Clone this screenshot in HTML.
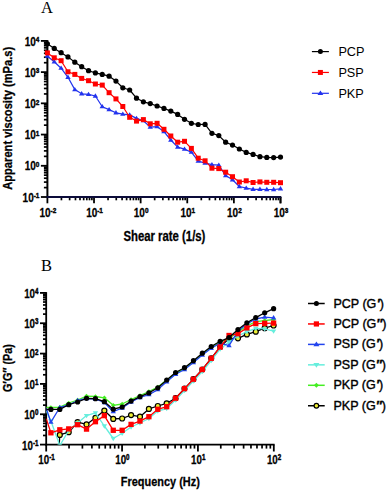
<!DOCTYPE html><html><head><meta charset="utf-8"><style>html,body{margin:0;padding:0;background:#fff;width:387px;height:490px;overflow:hidden}svg{display:block}</style></head><body>
<svg width="387" height="490" viewBox="0 0 387 490">
<rect width="387" height="490" fill="#fff"/>
<text x="41.0" y="12.7" font-family="Liberation Serif, serif" font-size="16.5">A</text>
<text x="41.1" y="271.0" font-family="Liberation Serif, serif" font-size="16.5">B</text>
<line x1="40.9" y1="197.00" x2="47.40" y2="197.00" stroke="#000" stroke-width="1.8"/>
<line x1="43.9" y1="187.60" x2="47.40" y2="187.60" stroke="#000" stroke-width="1.7"/>
<line x1="43.9" y1="182.10" x2="47.40" y2="182.10" stroke="#000" stroke-width="1.7"/>
<line x1="43.9" y1="178.20" x2="47.40" y2="178.20" stroke="#000" stroke-width="1.7"/>
<line x1="43.9" y1="175.18" x2="47.40" y2="175.18" stroke="#000" stroke-width="1.7"/>
<line x1="43.9" y1="172.71" x2="47.40" y2="172.71" stroke="#000" stroke-width="1.7"/>
<line x1="43.9" y1="170.62" x2="47.40" y2="170.62" stroke="#000" stroke-width="1.7"/>
<line x1="43.9" y1="168.81" x2="47.40" y2="168.81" stroke="#000" stroke-width="1.7"/>
<line x1="43.9" y1="167.21" x2="47.40" y2="167.21" stroke="#000" stroke-width="1.7"/>
<line x1="40.9" y1="165.78" x2="47.40" y2="165.78" stroke="#000" stroke-width="1.8"/>
<line x1="43.9" y1="156.38" x2="47.40" y2="156.38" stroke="#000" stroke-width="1.7"/>
<line x1="43.9" y1="150.88" x2="47.40" y2="150.88" stroke="#000" stroke-width="1.7"/>
<line x1="43.9" y1="146.98" x2="47.40" y2="146.98" stroke="#000" stroke-width="1.7"/>
<line x1="43.9" y1="143.96" x2="47.40" y2="143.96" stroke="#000" stroke-width="1.7"/>
<line x1="43.9" y1="141.49" x2="47.40" y2="141.49" stroke="#000" stroke-width="1.7"/>
<line x1="43.9" y1="139.40" x2="47.40" y2="139.40" stroke="#000" stroke-width="1.7"/>
<line x1="43.9" y1="137.59" x2="47.40" y2="137.59" stroke="#000" stroke-width="1.7"/>
<line x1="43.9" y1="135.99" x2="47.40" y2="135.99" stroke="#000" stroke-width="1.7"/>
<line x1="40.9" y1="134.56" x2="47.40" y2="134.56" stroke="#000" stroke-width="1.8"/>
<line x1="43.9" y1="125.16" x2="47.40" y2="125.16" stroke="#000" stroke-width="1.7"/>
<line x1="43.9" y1="119.66" x2="47.40" y2="119.66" stroke="#000" stroke-width="1.7"/>
<line x1="43.9" y1="115.76" x2="47.40" y2="115.76" stroke="#000" stroke-width="1.7"/>
<line x1="43.9" y1="112.74" x2="47.40" y2="112.74" stroke="#000" stroke-width="1.7"/>
<line x1="43.9" y1="110.27" x2="47.40" y2="110.27" stroke="#000" stroke-width="1.7"/>
<line x1="43.9" y1="108.18" x2="47.40" y2="108.18" stroke="#000" stroke-width="1.7"/>
<line x1="43.9" y1="106.37" x2="47.40" y2="106.37" stroke="#000" stroke-width="1.7"/>
<line x1="43.9" y1="104.77" x2="47.40" y2="104.77" stroke="#000" stroke-width="1.7"/>
<line x1="40.9" y1="103.34" x2="47.40" y2="103.34" stroke="#000" stroke-width="1.8"/>
<line x1="43.9" y1="93.94" x2="47.40" y2="93.94" stroke="#000" stroke-width="1.7"/>
<line x1="43.9" y1="88.44" x2="47.40" y2="88.44" stroke="#000" stroke-width="1.7"/>
<line x1="43.9" y1="84.54" x2="47.40" y2="84.54" stroke="#000" stroke-width="1.7"/>
<line x1="43.9" y1="81.52" x2="47.40" y2="81.52" stroke="#000" stroke-width="1.7"/>
<line x1="43.9" y1="79.05" x2="47.40" y2="79.05" stroke="#000" stroke-width="1.7"/>
<line x1="43.9" y1="76.96" x2="47.40" y2="76.96" stroke="#000" stroke-width="1.7"/>
<line x1="43.9" y1="75.15" x2="47.40" y2="75.15" stroke="#000" stroke-width="1.7"/>
<line x1="43.9" y1="73.55" x2="47.40" y2="73.55" stroke="#000" stroke-width="1.7"/>
<line x1="40.9" y1="72.12" x2="47.40" y2="72.12" stroke="#000" stroke-width="1.8"/>
<line x1="43.9" y1="62.72" x2="47.40" y2="62.72" stroke="#000" stroke-width="1.7"/>
<line x1="43.9" y1="57.22" x2="47.40" y2="57.22" stroke="#000" stroke-width="1.7"/>
<line x1="43.9" y1="53.32" x2="47.40" y2="53.32" stroke="#000" stroke-width="1.7"/>
<line x1="43.9" y1="50.30" x2="47.40" y2="50.30" stroke="#000" stroke-width="1.7"/>
<line x1="43.9" y1="47.83" x2="47.40" y2="47.83" stroke="#000" stroke-width="1.7"/>
<line x1="43.9" y1="45.74" x2="47.40" y2="45.74" stroke="#000" stroke-width="1.7"/>
<line x1="43.9" y1="43.93" x2="47.40" y2="43.93" stroke="#000" stroke-width="1.7"/>
<line x1="43.9" y1="42.33" x2="47.40" y2="42.33" stroke="#000" stroke-width="1.7"/>
<line x1="40.9" y1="40.90" x2="47.40" y2="40.90" stroke="#000" stroke-width="1.8"/>
<line x1="47.40" y1="197.00" x2="47.40" y2="203.3" stroke="#000" stroke-width="1.8"/>
<line x1="61.43" y1="197.00" x2="61.43" y2="200.3" stroke="#000" stroke-width="1.7"/>
<line x1="69.64" y1="197.00" x2="69.64" y2="200.3" stroke="#000" stroke-width="1.7"/>
<line x1="75.47" y1="197.00" x2="75.47" y2="200.3" stroke="#000" stroke-width="1.7"/>
<line x1="79.99" y1="197.00" x2="79.99" y2="200.3" stroke="#000" stroke-width="1.7"/>
<line x1="83.68" y1="197.00" x2="83.68" y2="200.3" stroke="#000" stroke-width="1.7"/>
<line x1="86.80" y1="197.00" x2="86.80" y2="200.3" stroke="#000" stroke-width="1.7"/>
<line x1="89.50" y1="197.00" x2="89.50" y2="200.3" stroke="#000" stroke-width="1.7"/>
<line x1="91.89" y1="197.00" x2="91.89" y2="200.3" stroke="#000" stroke-width="1.7"/>
<line x1="94.02" y1="197.00" x2="94.02" y2="203.3" stroke="#000" stroke-width="1.8"/>
<line x1="108.05" y1="197.00" x2="108.05" y2="200.3" stroke="#000" stroke-width="1.7"/>
<line x1="116.26" y1="197.00" x2="116.26" y2="200.3" stroke="#000" stroke-width="1.7"/>
<line x1="122.09" y1="197.00" x2="122.09" y2="200.3" stroke="#000" stroke-width="1.7"/>
<line x1="126.61" y1="197.00" x2="126.61" y2="200.3" stroke="#000" stroke-width="1.7"/>
<line x1="130.30" y1="197.00" x2="130.30" y2="200.3" stroke="#000" stroke-width="1.7"/>
<line x1="133.42" y1="197.00" x2="133.42" y2="200.3" stroke="#000" stroke-width="1.7"/>
<line x1="136.12" y1="197.00" x2="136.12" y2="200.3" stroke="#000" stroke-width="1.7"/>
<line x1="138.51" y1="197.00" x2="138.51" y2="200.3" stroke="#000" stroke-width="1.7"/>
<line x1="140.64" y1="197.00" x2="140.64" y2="203.3" stroke="#000" stroke-width="1.8"/>
<line x1="154.67" y1="197.00" x2="154.67" y2="200.3" stroke="#000" stroke-width="1.7"/>
<line x1="162.88" y1="197.00" x2="162.88" y2="200.3" stroke="#000" stroke-width="1.7"/>
<line x1="168.71" y1="197.00" x2="168.71" y2="200.3" stroke="#000" stroke-width="1.7"/>
<line x1="173.23" y1="197.00" x2="173.23" y2="200.3" stroke="#000" stroke-width="1.7"/>
<line x1="176.92" y1="197.00" x2="176.92" y2="200.3" stroke="#000" stroke-width="1.7"/>
<line x1="180.04" y1="197.00" x2="180.04" y2="200.3" stroke="#000" stroke-width="1.7"/>
<line x1="182.74" y1="197.00" x2="182.74" y2="200.3" stroke="#000" stroke-width="1.7"/>
<line x1="185.13" y1="197.00" x2="185.13" y2="200.3" stroke="#000" stroke-width="1.7"/>
<line x1="187.26" y1="197.00" x2="187.26" y2="203.3" stroke="#000" stroke-width="1.8"/>
<line x1="201.29" y1="197.00" x2="201.29" y2="200.3" stroke="#000" stroke-width="1.7"/>
<line x1="209.50" y1="197.00" x2="209.50" y2="200.3" stroke="#000" stroke-width="1.7"/>
<line x1="215.33" y1="197.00" x2="215.33" y2="200.3" stroke="#000" stroke-width="1.7"/>
<line x1="219.85" y1="197.00" x2="219.85" y2="200.3" stroke="#000" stroke-width="1.7"/>
<line x1="223.54" y1="197.00" x2="223.54" y2="200.3" stroke="#000" stroke-width="1.7"/>
<line x1="226.66" y1="197.00" x2="226.66" y2="200.3" stroke="#000" stroke-width="1.7"/>
<line x1="229.36" y1="197.00" x2="229.36" y2="200.3" stroke="#000" stroke-width="1.7"/>
<line x1="231.75" y1="197.00" x2="231.75" y2="200.3" stroke="#000" stroke-width="1.7"/>
<line x1="233.88" y1="197.00" x2="233.88" y2="203.3" stroke="#000" stroke-width="1.8"/>
<line x1="247.91" y1="197.00" x2="247.91" y2="200.3" stroke="#000" stroke-width="1.7"/>
<line x1="256.12" y1="197.00" x2="256.12" y2="200.3" stroke="#000" stroke-width="1.7"/>
<line x1="261.95" y1="197.00" x2="261.95" y2="200.3" stroke="#000" stroke-width="1.7"/>
<line x1="266.47" y1="197.00" x2="266.47" y2="200.3" stroke="#000" stroke-width="1.7"/>
<line x1="270.16" y1="197.00" x2="270.16" y2="200.3" stroke="#000" stroke-width="1.7"/>
<line x1="273.28" y1="197.00" x2="273.28" y2="200.3" stroke="#000" stroke-width="1.7"/>
<line x1="275.98" y1="197.00" x2="275.98" y2="200.3" stroke="#000" stroke-width="1.7"/>
<line x1="278.37" y1="197.00" x2="278.37" y2="200.3" stroke="#000" stroke-width="1.7"/>
<line x1="280.50" y1="197.00" x2="280.50" y2="203.3" stroke="#000" stroke-width="1.8"/>
<line x1="280.50" y1="197.00" x2="280.50" y2="203.3" stroke="#000" stroke-width="1.8"/>
<line x1="47.40" y1="40.10" x2="47.40" y2="198.00" stroke="#000" stroke-width="2"/>
<line x1="46.40" y1="197.00" x2="281.30" y2="197.00" stroke="#0c0c3a" stroke-width="2"/>
<text transform="translate(39.40,201.60) scale(0.8,1)" text-anchor="end" font-size="12.5" font-weight="bold" stroke="#000" stroke-width="0.25" font-family="Liberation Sans, sans-serif">10<tspan font-size="8" dy="-3.4" stroke-width="0.45">‐1</tspan></text>
<text transform="translate(39.40,170.38) scale(0.8,1)" text-anchor="end" font-size="12.5" font-weight="bold" stroke="#000" stroke-width="0.25" font-family="Liberation Sans, sans-serif">10<tspan font-size="8" dy="-3.4" stroke-width="0.45">0</tspan></text>
<text transform="translate(39.40,139.16) scale(0.8,1)" text-anchor="end" font-size="12.5" font-weight="bold" stroke="#000" stroke-width="0.25" font-family="Liberation Sans, sans-serif">10<tspan font-size="8" dy="-3.4" stroke-width="0.45">1</tspan></text>
<text transform="translate(39.40,107.94) scale(0.8,1)" text-anchor="end" font-size="12.5" font-weight="bold" stroke="#000" stroke-width="0.25" font-family="Liberation Sans, sans-serif">10<tspan font-size="8" dy="-3.4" stroke-width="0.45">2</tspan></text>
<text transform="translate(39.40,76.72) scale(0.8,1)" text-anchor="end" font-size="12.5" font-weight="bold" stroke="#000" stroke-width="0.25" font-family="Liberation Sans, sans-serif">10<tspan font-size="8" dy="-3.4" stroke-width="0.45">3</tspan></text>
<text transform="translate(39.40,45.50) scale(0.8,1)" text-anchor="end" font-size="12.5" font-weight="bold" stroke="#000" stroke-width="0.25" font-family="Liberation Sans, sans-serif">10<tspan font-size="8" dy="-3.4" stroke-width="0.45">4</tspan></text>
<text transform="translate(47.90,216.80) scale(0.8,1)" text-anchor="middle" font-size="12.5" font-weight="bold" stroke="#000" stroke-width="0.25" font-family="Liberation Sans, sans-serif">10<tspan font-size="8" dy="-3.4" stroke-width="0.45">‐2</tspan></text>
<text transform="translate(94.52,216.80) scale(0.8,1)" text-anchor="middle" font-size="12.5" font-weight="bold" stroke="#000" stroke-width="0.25" font-family="Liberation Sans, sans-serif">10<tspan font-size="8" dy="-3.4" stroke-width="0.45">‐1</tspan></text>
<text transform="translate(141.14,216.80) scale(0.8,1)" text-anchor="middle" font-size="12.5" font-weight="bold" stroke="#000" stroke-width="0.25" font-family="Liberation Sans, sans-serif">10<tspan font-size="8" dy="-3.4" stroke-width="0.45">0</tspan></text>
<text transform="translate(187.76,216.80) scale(0.8,1)" text-anchor="middle" font-size="12.5" font-weight="bold" stroke="#000" stroke-width="0.25" font-family="Liberation Sans, sans-serif">10<tspan font-size="8" dy="-3.4" stroke-width="0.45">1</tspan></text>
<text transform="translate(234.38,216.80) scale(0.8,1)" text-anchor="middle" font-size="12.5" font-weight="bold" stroke="#000" stroke-width="0.25" font-family="Liberation Sans, sans-serif">10<tspan font-size="8" dy="-3.4" stroke-width="0.45">2</tspan></text>
<text transform="translate(281.00,216.80) scale(0.8,1)" text-anchor="middle" font-size="12.5" font-weight="bold" stroke="#000" stroke-width="0.25" font-family="Liberation Sans, sans-serif">10<tspan font-size="8" dy="-3.4" stroke-width="0.45">3</tspan></text>
<text transform="translate(12.0,118.3) rotate(-90)" text-anchor="middle" font-size="13.4" font-weight="bold" stroke="#000" stroke-width="0.3" font-family="Liberation Sans, sans-serif" textLength="143" lengthAdjust="spacingAndGlyphs">Apparent viscosity (mPa.s)</text>
<text x="164.4" y="241.2" text-anchor="middle" font-size="14" font-weight="bold" stroke="#000" stroke-width="0.3" font-family="Liberation Sans, sans-serif" textLength="82" lengthAdjust="spacingAndGlyphs">Shear rate (1/s)</text>
<polyline points="47.40,56.20 54.26,61.80 61.11,68.20 67.97,77.30 74.82,89.60 81.68,93.80 88.54,94.40 95.39,96.00 102.25,106.70 109.10,109.60 115.96,112.80 122.81,114.20 129.67,114.90 136.53,118.40 143.38,120.70 150.24,127.10 157.09,126.70 163.95,131.60 170.81,140.00 177.66,147.20 184.52,149.10 191.37,152.20 198.23,161.10 205.09,163.10 211.94,164.60 218.80,165.10 225.65,175.60 232.51,179.80 239.36,186.50 246.22,188.20 253.08,189.30 259.93,189.30 266.79,189.50 273.64,189.50 280.50,188.80" fill="none" stroke="#2233ee" stroke-width="1.2" stroke-linejoin="round"/>
<polygon points="47.40,53.52 44.70,57.84 50.10,57.84" fill="#2233ee"/>
<polygon points="54.26,59.12 51.56,63.44 56.96,63.44" fill="#2233ee"/>
<polygon points="61.11,65.52 58.41,69.84 63.81,69.84" fill="#2233ee"/>
<polygon points="67.97,74.62 65.27,78.94 70.67,78.94" fill="#2233ee"/>
<polygon points="74.82,86.92 72.12,91.24 77.52,91.24" fill="#2233ee"/>
<polygon points="81.68,91.12 78.98,95.44 84.38,95.44" fill="#2233ee"/>
<polygon points="88.54,91.72 85.84,96.04 91.24,96.04" fill="#2233ee"/>
<polygon points="95.39,93.32 92.69,97.64 98.09,97.64" fill="#2233ee"/>
<polygon points="102.25,104.02 99.55,108.34 104.95,108.34" fill="#2233ee"/>
<polygon points="109.10,106.92 106.40,111.24 111.80,111.24" fill="#2233ee"/>
<polygon points="115.96,110.12 113.26,114.44 118.66,114.44" fill="#2233ee"/>
<polygon points="122.81,111.52 120.11,115.84 125.51,115.84" fill="#2233ee"/>
<polygon points="129.67,112.22 126.97,116.54 132.37,116.54" fill="#2233ee"/>
<polygon points="136.53,115.72 133.83,120.04 139.23,120.04" fill="#2233ee"/>
<polygon points="143.38,118.02 140.68,122.34 146.08,122.34" fill="#2233ee"/>
<polygon points="150.24,124.42 147.54,128.74 152.94,128.74" fill="#2233ee"/>
<polygon points="157.09,124.02 154.39,128.34 159.79,128.34" fill="#2233ee"/>
<polygon points="163.95,128.92 161.25,133.24 166.65,133.24" fill="#2233ee"/>
<polygon points="170.81,137.32 168.11,141.64 173.51,141.64" fill="#2233ee"/>
<polygon points="177.66,144.52 174.96,148.84 180.36,148.84" fill="#2233ee"/>
<polygon points="184.52,146.42 181.82,150.74 187.22,150.74" fill="#2233ee"/>
<polygon points="191.37,149.52 188.67,153.84 194.07,153.84" fill="#2233ee"/>
<polygon points="198.23,158.42 195.53,162.74 200.93,162.74" fill="#2233ee"/>
<polygon points="205.09,160.42 202.39,164.74 207.79,164.74" fill="#2233ee"/>
<polygon points="211.94,161.92 209.24,166.24 214.64,166.24" fill="#2233ee"/>
<polygon points="218.80,162.42 216.10,166.74 221.50,166.74" fill="#2233ee"/>
<polygon points="225.65,172.92 222.95,177.24 228.35,177.24" fill="#2233ee"/>
<polygon points="232.51,177.12 229.81,181.44 235.21,181.44" fill="#2233ee"/>
<polygon points="239.36,183.82 236.66,188.14 242.06,188.14" fill="#2233ee"/>
<polygon points="246.22,185.52 243.52,189.84 248.92,189.84" fill="#2233ee"/>
<polygon points="253.08,186.62 250.38,190.94 255.78,190.94" fill="#2233ee"/>
<polygon points="259.93,186.62 257.23,190.94 262.63,190.94" fill="#2233ee"/>
<polygon points="266.79,186.82 264.09,191.14 269.49,191.14" fill="#2233ee"/>
<polygon points="273.64,186.82 270.94,191.14 276.34,191.14" fill="#2233ee"/>
<polygon points="280.50,186.12 277.80,190.44 283.20,190.44" fill="#2233ee"/>
<polyline points="47.40,52.90 54.26,57.80 61.11,60.70 67.97,71.80 74.82,74.40 81.68,78.40 88.54,80.70 95.39,84.00 102.25,85.10 109.10,92.70 115.96,98.90 122.81,106.50 129.67,117.30 136.53,121.10 143.38,119.60 150.24,123.80 157.09,123.30 163.95,129.30 170.81,136.00 177.66,142.20 184.52,141.30 191.37,148.40 198.23,158.20 205.09,160.80 211.94,168.20 218.80,168.60 225.65,172.20 232.51,176.70 239.36,182.00 246.22,180.80 253.08,182.50 259.93,181.90 266.79,182.30 273.64,182.30 280.50,182.70" fill="none" stroke="#ff0000" stroke-width="1.2" stroke-linejoin="round"/>
<rect x="44.90" y="50.40" width="5" height="5" fill="#ff0000"/>
<rect x="51.76" y="55.30" width="5" height="5" fill="#ff0000"/>
<rect x="58.61" y="58.20" width="5" height="5" fill="#ff0000"/>
<rect x="65.47" y="69.30" width="5" height="5" fill="#ff0000"/>
<rect x="72.32" y="71.90" width="5" height="5" fill="#ff0000"/>
<rect x="79.18" y="75.90" width="5" height="5" fill="#ff0000"/>
<rect x="86.04" y="78.20" width="5" height="5" fill="#ff0000"/>
<rect x="92.89" y="81.50" width="5" height="5" fill="#ff0000"/>
<rect x="99.75" y="82.60" width="5" height="5" fill="#ff0000"/>
<rect x="106.60" y="90.20" width="5" height="5" fill="#ff0000"/>
<rect x="113.46" y="96.40" width="5" height="5" fill="#ff0000"/>
<rect x="120.31" y="104.00" width="5" height="5" fill="#ff0000"/>
<rect x="127.17" y="114.80" width="5" height="5" fill="#ff0000"/>
<rect x="134.03" y="118.60" width="5" height="5" fill="#ff0000"/>
<rect x="140.88" y="117.10" width="5" height="5" fill="#ff0000"/>
<rect x="147.74" y="121.30" width="5" height="5" fill="#ff0000"/>
<rect x="154.59" y="120.80" width="5" height="5" fill="#ff0000"/>
<rect x="161.45" y="126.80" width="5" height="5" fill="#ff0000"/>
<rect x="168.31" y="133.50" width="5" height="5" fill="#ff0000"/>
<rect x="175.16" y="139.70" width="5" height="5" fill="#ff0000"/>
<rect x="182.02" y="138.80" width="5" height="5" fill="#ff0000"/>
<rect x="188.87" y="145.90" width="5" height="5" fill="#ff0000"/>
<rect x="195.73" y="155.70" width="5" height="5" fill="#ff0000"/>
<rect x="202.59" y="158.30" width="5" height="5" fill="#ff0000"/>
<rect x="209.44" y="165.70" width="5" height="5" fill="#ff0000"/>
<rect x="216.30" y="166.10" width="5" height="5" fill="#ff0000"/>
<rect x="223.15" y="169.70" width="5" height="5" fill="#ff0000"/>
<rect x="230.01" y="174.20" width="5" height="5" fill="#ff0000"/>
<rect x="236.86" y="179.50" width="5" height="5" fill="#ff0000"/>
<rect x="243.72" y="178.30" width="5" height="5" fill="#ff0000"/>
<rect x="250.58" y="180.00" width="5" height="5" fill="#ff0000"/>
<rect x="257.43" y="179.40" width="5" height="5" fill="#ff0000"/>
<rect x="264.29" y="179.80" width="5" height="5" fill="#ff0000"/>
<rect x="271.14" y="179.80" width="5" height="5" fill="#ff0000"/>
<rect x="278.00" y="180.20" width="5" height="5" fill="#ff0000"/>
<polyline points="47.40,43.80 54.26,48.40 61.11,52.70 67.97,56.90 74.82,62.20 81.68,66.70 88.54,70.70 95.39,72.90 102.25,74.40 109.10,76.20 115.96,81.10 122.81,87.80 129.67,90.00 136.53,98.20 143.38,101.80 150.24,103.60 157.09,106.00 163.95,108.40 170.81,111.10 177.66,114.40 184.52,119.30 191.37,123.30 198.23,124.50 205.09,124.40 211.94,133.30 218.80,135.60 225.65,142.20 232.51,145.10 239.36,149.00 246.22,152.40 253.08,154.40 259.93,156.70 266.79,157.40 273.64,157.60 280.50,157.10" fill="none" stroke="#000" stroke-width="1.2" stroke-linejoin="round"/>
<circle cx="47.40" cy="43.80" r="2.6" fill="#000"/>
<circle cx="54.26" cy="48.40" r="2.6" fill="#000"/>
<circle cx="61.11" cy="52.70" r="2.6" fill="#000"/>
<circle cx="67.97" cy="56.90" r="2.6" fill="#000"/>
<circle cx="74.82" cy="62.20" r="2.6" fill="#000"/>
<circle cx="81.68" cy="66.70" r="2.6" fill="#000"/>
<circle cx="88.54" cy="70.70" r="2.6" fill="#000"/>
<circle cx="95.39" cy="72.90" r="2.6" fill="#000"/>
<circle cx="102.25" cy="74.40" r="2.6" fill="#000"/>
<circle cx="109.10" cy="76.20" r="2.6" fill="#000"/>
<circle cx="115.96" cy="81.10" r="2.6" fill="#000"/>
<circle cx="122.81" cy="87.80" r="2.6" fill="#000"/>
<circle cx="129.67" cy="90.00" r="2.6" fill="#000"/>
<circle cx="136.53" cy="98.20" r="2.6" fill="#000"/>
<circle cx="143.38" cy="101.80" r="2.6" fill="#000"/>
<circle cx="150.24" cy="103.60" r="2.6" fill="#000"/>
<circle cx="157.09" cy="106.00" r="2.6" fill="#000"/>
<circle cx="163.95" cy="108.40" r="2.6" fill="#000"/>
<circle cx="170.81" cy="111.10" r="2.6" fill="#000"/>
<circle cx="177.66" cy="114.40" r="2.6" fill="#000"/>
<circle cx="184.52" cy="119.30" r="2.6" fill="#000"/>
<circle cx="191.37" cy="123.30" r="2.6" fill="#000"/>
<circle cx="198.23" cy="124.50" r="2.6" fill="#000"/>
<circle cx="205.09" cy="124.40" r="2.6" fill="#000"/>
<circle cx="211.94" cy="133.30" r="2.6" fill="#000"/>
<circle cx="218.80" cy="135.60" r="2.6" fill="#000"/>
<circle cx="225.65" cy="142.20" r="2.6" fill="#000"/>
<circle cx="232.51" cy="145.10" r="2.6" fill="#000"/>
<circle cx="239.36" cy="149.00" r="2.6" fill="#000"/>
<circle cx="246.22" cy="152.40" r="2.6" fill="#000"/>
<circle cx="253.08" cy="154.40" r="2.6" fill="#000"/>
<circle cx="259.93" cy="156.70" r="2.6" fill="#000"/>
<circle cx="266.79" cy="157.40" r="2.6" fill="#000"/>
<circle cx="273.64" cy="157.60" r="2.6" fill="#000"/>
<circle cx="280.50" cy="157.10" r="2.6" fill="#000"/>
<line x1="311.9" y1="51.60" x2="328.9" y2="51.60" stroke="#000" stroke-width="1.2"/>
<circle cx="320.40" cy="51.60" r="2.5" fill="#000"/>
<text x="338.4" y="56.00" font-size="12.7" font-family="Liberation Sans, sans-serif">PCP</text>
<line x1="311.9" y1="72.45" x2="328.9" y2="72.45" stroke="#ff0000" stroke-width="1.2"/>
<rect x="317.90" y="69.95" width="5" height="5" fill="#ff0000"/>
<text x="338.4" y="76.85" font-size="12.7" font-family="Liberation Sans, sans-serif">PSP</text>
<line x1="311.9" y1="93.30" x2="328.9" y2="93.30" stroke="#2233ee" stroke-width="1.2"/>
<polygon points="320.40,90.42 317.50,95.06 323.30,95.06" fill="#2233ee"/>
<text x="338.4" y="97.70" font-size="12.7" font-family="Liberation Sans, sans-serif">PKP</text>
<line x1="40.0" y1="444.60" x2="46.20" y2="444.60" stroke="#000" stroke-width="1.8"/>
<line x1="43.0" y1="435.47" x2="46.20" y2="435.47" stroke="#000" stroke-width="1.7"/>
<line x1="43.0" y1="430.12" x2="46.20" y2="430.12" stroke="#000" stroke-width="1.7"/>
<line x1="43.0" y1="426.33" x2="46.20" y2="426.33" stroke="#000" stroke-width="1.7"/>
<line x1="43.0" y1="423.39" x2="46.20" y2="423.39" stroke="#000" stroke-width="1.7"/>
<line x1="43.0" y1="420.99" x2="46.20" y2="420.99" stroke="#000" stroke-width="1.7"/>
<line x1="43.0" y1="418.96" x2="46.20" y2="418.96" stroke="#000" stroke-width="1.7"/>
<line x1="43.0" y1="417.20" x2="46.20" y2="417.20" stroke="#000" stroke-width="1.7"/>
<line x1="43.0" y1="415.65" x2="46.20" y2="415.65" stroke="#000" stroke-width="1.7"/>
<line x1="40.0" y1="414.26" x2="46.20" y2="414.26" stroke="#000" stroke-width="1.8"/>
<line x1="43.0" y1="405.13" x2="46.20" y2="405.13" stroke="#000" stroke-width="1.7"/>
<line x1="43.0" y1="399.78" x2="46.20" y2="399.78" stroke="#000" stroke-width="1.7"/>
<line x1="43.0" y1="395.99" x2="46.20" y2="395.99" stroke="#000" stroke-width="1.7"/>
<line x1="43.0" y1="393.05" x2="46.20" y2="393.05" stroke="#000" stroke-width="1.7"/>
<line x1="43.0" y1="390.65" x2="46.20" y2="390.65" stroke="#000" stroke-width="1.7"/>
<line x1="43.0" y1="388.62" x2="46.20" y2="388.62" stroke="#000" stroke-width="1.7"/>
<line x1="43.0" y1="386.86" x2="46.20" y2="386.86" stroke="#000" stroke-width="1.7"/>
<line x1="43.0" y1="385.31" x2="46.20" y2="385.31" stroke="#000" stroke-width="1.7"/>
<line x1="40.0" y1="383.92" x2="46.20" y2="383.92" stroke="#000" stroke-width="1.8"/>
<line x1="43.0" y1="374.79" x2="46.20" y2="374.79" stroke="#000" stroke-width="1.7"/>
<line x1="43.0" y1="369.44" x2="46.20" y2="369.44" stroke="#000" stroke-width="1.7"/>
<line x1="43.0" y1="365.65" x2="46.20" y2="365.65" stroke="#000" stroke-width="1.7"/>
<line x1="43.0" y1="362.71" x2="46.20" y2="362.71" stroke="#000" stroke-width="1.7"/>
<line x1="43.0" y1="360.31" x2="46.20" y2="360.31" stroke="#000" stroke-width="1.7"/>
<line x1="43.0" y1="358.28" x2="46.20" y2="358.28" stroke="#000" stroke-width="1.7"/>
<line x1="43.0" y1="356.52" x2="46.20" y2="356.52" stroke="#000" stroke-width="1.7"/>
<line x1="43.0" y1="354.97" x2="46.20" y2="354.97" stroke="#000" stroke-width="1.7"/>
<line x1="40.0" y1="353.58" x2="46.20" y2="353.58" stroke="#000" stroke-width="1.8"/>
<line x1="43.0" y1="344.45" x2="46.20" y2="344.45" stroke="#000" stroke-width="1.7"/>
<line x1="43.0" y1="339.10" x2="46.20" y2="339.10" stroke="#000" stroke-width="1.7"/>
<line x1="43.0" y1="335.31" x2="46.20" y2="335.31" stroke="#000" stroke-width="1.7"/>
<line x1="43.0" y1="332.37" x2="46.20" y2="332.37" stroke="#000" stroke-width="1.7"/>
<line x1="43.0" y1="329.97" x2="46.20" y2="329.97" stroke="#000" stroke-width="1.7"/>
<line x1="43.0" y1="327.94" x2="46.20" y2="327.94" stroke="#000" stroke-width="1.7"/>
<line x1="43.0" y1="326.18" x2="46.20" y2="326.18" stroke="#000" stroke-width="1.7"/>
<line x1="43.0" y1="324.63" x2="46.20" y2="324.63" stroke="#000" stroke-width="1.7"/>
<line x1="40.0" y1="323.24" x2="46.20" y2="323.24" stroke="#000" stroke-width="1.8"/>
<line x1="43.0" y1="314.11" x2="46.20" y2="314.11" stroke="#000" stroke-width="1.7"/>
<line x1="43.0" y1="308.76" x2="46.20" y2="308.76" stroke="#000" stroke-width="1.7"/>
<line x1="43.0" y1="304.97" x2="46.20" y2="304.97" stroke="#000" stroke-width="1.7"/>
<line x1="43.0" y1="302.03" x2="46.20" y2="302.03" stroke="#000" stroke-width="1.7"/>
<line x1="43.0" y1="299.63" x2="46.20" y2="299.63" stroke="#000" stroke-width="1.7"/>
<line x1="43.0" y1="297.60" x2="46.20" y2="297.60" stroke="#000" stroke-width="1.7"/>
<line x1="43.0" y1="295.84" x2="46.20" y2="295.84" stroke="#000" stroke-width="1.7"/>
<line x1="43.0" y1="294.29" x2="46.20" y2="294.29" stroke="#000" stroke-width="1.7"/>
<line x1="40.0" y1="292.90" x2="46.20" y2="292.90" stroke="#000" stroke-width="1.8"/>
<line x1="46.20" y1="444.60" x2="46.20" y2="451.5" stroke="#000" stroke-width="1.8"/>
<line x1="69.04" y1="444.60" x2="69.04" y2="448.6" stroke="#000" stroke-width="1.7"/>
<line x1="82.40" y1="444.60" x2="82.40" y2="448.6" stroke="#000" stroke-width="1.7"/>
<line x1="91.88" y1="444.60" x2="91.88" y2="448.6" stroke="#000" stroke-width="1.7"/>
<line x1="99.23" y1="444.60" x2="99.23" y2="448.6" stroke="#000" stroke-width="1.7"/>
<line x1="105.24" y1="444.60" x2="105.24" y2="448.6" stroke="#000" stroke-width="1.7"/>
<line x1="110.31" y1="444.60" x2="110.31" y2="448.6" stroke="#000" stroke-width="1.7"/>
<line x1="114.71" y1="444.60" x2="114.71" y2="448.6" stroke="#000" stroke-width="1.7"/>
<line x1="118.60" y1="444.60" x2="118.60" y2="448.6" stroke="#000" stroke-width="1.7"/>
<line x1="122.07" y1="444.60" x2="122.07" y2="451.5" stroke="#000" stroke-width="1.8"/>
<line x1="144.90" y1="444.60" x2="144.90" y2="448.6" stroke="#000" stroke-width="1.7"/>
<line x1="158.26" y1="444.60" x2="158.26" y2="448.6" stroke="#000" stroke-width="1.7"/>
<line x1="167.74" y1="444.60" x2="167.74" y2="448.6" stroke="#000" stroke-width="1.7"/>
<line x1="175.10" y1="444.60" x2="175.10" y2="448.6" stroke="#000" stroke-width="1.7"/>
<line x1="181.10" y1="444.60" x2="181.10" y2="448.6" stroke="#000" stroke-width="1.7"/>
<line x1="186.18" y1="444.60" x2="186.18" y2="448.6" stroke="#000" stroke-width="1.7"/>
<line x1="190.58" y1="444.60" x2="190.58" y2="448.6" stroke="#000" stroke-width="1.7"/>
<line x1="194.46" y1="444.60" x2="194.46" y2="448.6" stroke="#000" stroke-width="1.7"/>
<line x1="197.93" y1="444.60" x2="197.93" y2="451.5" stroke="#000" stroke-width="1.8"/>
<line x1="220.77" y1="444.60" x2="220.77" y2="448.6" stroke="#000" stroke-width="1.7"/>
<line x1="234.13" y1="444.60" x2="234.13" y2="448.6" stroke="#000" stroke-width="1.7"/>
<line x1="243.61" y1="444.60" x2="243.61" y2="448.6" stroke="#000" stroke-width="1.7"/>
<line x1="250.96" y1="444.60" x2="250.96" y2="448.6" stroke="#000" stroke-width="1.7"/>
<line x1="256.97" y1="444.60" x2="256.97" y2="448.6" stroke="#000" stroke-width="1.7"/>
<line x1="262.05" y1="444.60" x2="262.05" y2="448.6" stroke="#000" stroke-width="1.7"/>
<line x1="266.45" y1="444.60" x2="266.45" y2="448.6" stroke="#000" stroke-width="1.7"/>
<line x1="270.33" y1="444.60" x2="270.33" y2="448.6" stroke="#000" stroke-width="1.7"/>
<line x1="273.80" y1="444.60" x2="273.80" y2="451.5" stroke="#000" stroke-width="1.8"/>
<line x1="46.20" y1="292.10" x2="46.20" y2="445.60" stroke="#000" stroke-width="1.8"/>
<line x1="45.20" y1="444.60" x2="274.60" y2="444.60" stroke="#000" stroke-width="1.8"/>
<text transform="translate(38.50,449.50) scale(0.75,1)" text-anchor="end" font-size="13" font-weight="bold" stroke="#000" stroke-width="0.25" font-family="Liberation Sans, sans-serif">10<tspan font-size="8.3" dy="-3.8" stroke-width="0.45">‐1</tspan></text>
<text transform="translate(38.50,419.16) scale(0.75,1)" text-anchor="end" font-size="13" font-weight="bold" stroke="#000" stroke-width="0.25" font-family="Liberation Sans, sans-serif">10<tspan font-size="8.3" dy="-3.8" stroke-width="0.45">0</tspan></text>
<text transform="translate(38.50,388.82) scale(0.75,1)" text-anchor="end" font-size="13" font-weight="bold" stroke="#000" stroke-width="0.25" font-family="Liberation Sans, sans-serif">10<tspan font-size="8.3" dy="-3.8" stroke-width="0.45">1</tspan></text>
<text transform="translate(38.50,358.48) scale(0.75,1)" text-anchor="end" font-size="13" font-weight="bold" stroke="#000" stroke-width="0.25" font-family="Liberation Sans, sans-serif">10<tspan font-size="8.3" dy="-3.8" stroke-width="0.45">2</tspan></text>
<text transform="translate(38.50,328.14) scale(0.75,1)" text-anchor="end" font-size="13" font-weight="bold" stroke="#000" stroke-width="0.25" font-family="Liberation Sans, sans-serif">10<tspan font-size="8.3" dy="-3.8" stroke-width="0.45">3</tspan></text>
<text transform="translate(38.50,297.80) scale(0.75,1)" text-anchor="end" font-size="13" font-weight="bold" stroke="#000" stroke-width="0.25" font-family="Liberation Sans, sans-serif">10<tspan font-size="8.3" dy="-3.8" stroke-width="0.45">4</tspan></text>
<text transform="translate(46.50,463.90) scale(0.75,1)" text-anchor="middle" font-size="13" font-weight="bold" stroke="#000" stroke-width="0.25" font-family="Liberation Sans, sans-serif">10<tspan font-size="8.3" dy="-3.8" stroke-width="0.45">‐1</tspan></text>
<text transform="translate(122.37,463.90) scale(0.75,1)" text-anchor="middle" font-size="13" font-weight="bold" stroke="#000" stroke-width="0.25" font-family="Liberation Sans, sans-serif">10<tspan font-size="8.3" dy="-3.8" stroke-width="0.45">0</tspan></text>
<text transform="translate(198.23,463.90) scale(0.75,1)" text-anchor="middle" font-size="13" font-weight="bold" stroke="#000" stroke-width="0.25" font-family="Liberation Sans, sans-serif">10<tspan font-size="8.3" dy="-3.8" stroke-width="0.45">1</tspan></text>
<text transform="translate(274.10,463.90) scale(0.75,1)" text-anchor="middle" font-size="13" font-weight="bold" stroke="#000" stroke-width="0.25" font-family="Liberation Sans, sans-serif">10<tspan font-size="8.3" dy="-3.8" stroke-width="0.45">2</tspan></text>
<text transform="translate(12.4,368.1) rotate(-90)" text-anchor="middle" font-size="13.4" font-weight="bold" stroke="#000" stroke-width="0.3" font-family="Liberation Sans, sans-serif" textLength="48" lengthAdjust="spacingAndGlyphs">G′G″ (Pa)</text>
<text x="160.3" y="485.6" text-anchor="middle" font-size="13.4" font-weight="bold" stroke="#000" stroke-width="0.3" font-family="Liberation Sans, sans-serif" textLength="79" lengthAdjust="spacingAndGlyphs">Frequency (Hz)</text>
<defs><clipPath id="cb"><rect x="46.20" y="250" width="237.60" height="194.60"/></clipPath></defs>
<g clip-path="url(#cb)">
<polyline points="46.20,600.00 50.90,580.00 59.81,434.90 68.72,432.20 77.62,422.20 86.53,424.40 95.44,417.80 104.35,410.60 113.26,418.90 122.16,418.50 131.07,415.10 139.98,416.70 148.89,408.90 157.80,406.00 166.70,403.30 175.61,398.20 184.52,388.60 193.43,379.20 202.34,369.50 211.24,358.30 220.15,347.00 229.06,338.50 237.97,338.30 246.88,334.40 255.78,331.70 264.69,328.20 273.60,325.50" fill="none" stroke="#000" stroke-width="1.3" stroke-linejoin="round"/>
<circle cx="50.90" cy="580.00" r="2.5" fill="#eeee33" stroke="#000" stroke-width="1.2"/>
<circle cx="59.81" cy="434.90" r="2.5" fill="#eeee33" stroke="#000" stroke-width="1.2"/>
<circle cx="68.72" cy="432.20" r="2.5" fill="#eeee33" stroke="#000" stroke-width="1.2"/>
<circle cx="77.62" cy="422.20" r="2.5" fill="#eeee33" stroke="#000" stroke-width="1.2"/>
<circle cx="86.53" cy="424.40" r="2.5" fill="#eeee33" stroke="#000" stroke-width="1.2"/>
<circle cx="95.44" cy="417.80" r="2.5" fill="#eeee33" stroke="#000" stroke-width="1.2"/>
<circle cx="104.35" cy="410.60" r="2.5" fill="#eeee33" stroke="#000" stroke-width="1.2"/>
<circle cx="113.26" cy="418.90" r="2.5" fill="#eeee33" stroke="#000" stroke-width="1.2"/>
<circle cx="122.16" cy="418.50" r="2.5" fill="#eeee33" stroke="#000" stroke-width="1.2"/>
<circle cx="131.07" cy="415.10" r="2.5" fill="#eeee33" stroke="#000" stroke-width="1.2"/>
<circle cx="139.98" cy="416.70" r="2.5" fill="#eeee33" stroke="#000" stroke-width="1.2"/>
<circle cx="148.89" cy="408.90" r="2.5" fill="#eeee33" stroke="#000" stroke-width="1.2"/>
<circle cx="157.80" cy="406.00" r="2.5" fill="#eeee33" stroke="#000" stroke-width="1.2"/>
<circle cx="166.70" cy="403.30" r="2.5" fill="#eeee33" stroke="#000" stroke-width="1.2"/>
<circle cx="175.61" cy="398.20" r="2.5" fill="#eeee33" stroke="#000" stroke-width="1.2"/>
<circle cx="184.52" cy="388.60" r="2.5" fill="#eeee33" stroke="#000" stroke-width="1.2"/>
<circle cx="193.43" cy="379.20" r="2.5" fill="#eeee33" stroke="#000" stroke-width="1.2"/>
<circle cx="202.34" cy="369.50" r="2.5" fill="#eeee33" stroke="#000" stroke-width="1.2"/>
<circle cx="211.24" cy="358.30" r="2.5" fill="#eeee33" stroke="#000" stroke-width="1.2"/>
<circle cx="220.15" cy="347.00" r="2.5" fill="#eeee33" stroke="#000" stroke-width="1.2"/>
<circle cx="229.06" cy="338.50" r="2.5" fill="#eeee33" stroke="#000" stroke-width="1.2"/>
<circle cx="237.97" cy="338.30" r="2.5" fill="#eeee33" stroke="#000" stroke-width="1.2"/>
<circle cx="246.88" cy="334.40" r="2.5" fill="#eeee33" stroke="#000" stroke-width="1.2"/>
<circle cx="255.78" cy="331.70" r="2.5" fill="#eeee33" stroke="#000" stroke-width="1.2"/>
<circle cx="264.69" cy="328.20" r="2.5" fill="#eeee33" stroke="#000" stroke-width="1.2"/>
<circle cx="273.60" cy="325.50" r="2.5" fill="#eeee33" stroke="#000" stroke-width="1.2"/>
<polyline points="46.20,407.50 50.90,407.50 59.81,407.20 68.72,403.00 77.62,400.00 86.53,396.10 95.44,396.50 104.35,397.80 113.26,405.30 122.16,404.00 131.07,399.50 139.98,395.50 148.89,391.50 157.80,387.00 166.70,380.00 175.61,373.40 184.52,368.60 193.43,361.60 202.34,354.10 211.24,347.40 220.15,342.20 229.06,338.50 237.97,332.00 246.88,326.00 255.78,321.70 264.69,320.60 273.60,319.50" fill="none" stroke="#44ee22" stroke-width="1.3" stroke-linejoin="round"/>
<polygon points="50.90,405.25 53.15,407.50 50.90,409.75 48.65,407.50" fill="#44ee22"/>
<polygon points="59.81,404.95 62.06,407.20 59.81,409.45 57.56,407.20" fill="#44ee22"/>
<polygon points="68.72,400.75 70.97,403.00 68.72,405.25 66.47,403.00" fill="#44ee22"/>
<polygon points="77.62,397.75 79.87,400.00 77.62,402.25 75.37,400.00" fill="#44ee22"/>
<polygon points="86.53,393.85 88.78,396.10 86.53,398.35 84.28,396.10" fill="#44ee22"/>
<polygon points="95.44,394.25 97.69,396.50 95.44,398.75 93.19,396.50" fill="#44ee22"/>
<polygon points="104.35,395.55 106.60,397.80 104.35,400.05 102.10,397.80" fill="#44ee22"/>
<polygon points="113.26,403.05 115.51,405.30 113.26,407.55 111.01,405.30" fill="#44ee22"/>
<polygon points="122.16,401.75 124.41,404.00 122.16,406.25 119.91,404.00" fill="#44ee22"/>
<polygon points="131.07,397.25 133.32,399.50 131.07,401.75 128.82,399.50" fill="#44ee22"/>
<polygon points="139.98,393.25 142.23,395.50 139.98,397.75 137.73,395.50" fill="#44ee22"/>
<polygon points="148.89,389.25 151.14,391.50 148.89,393.75 146.64,391.50" fill="#44ee22"/>
<polygon points="157.80,384.75 160.05,387.00 157.80,389.25 155.55,387.00" fill="#44ee22"/>
<polygon points="166.70,377.75 168.95,380.00 166.70,382.25 164.45,380.00" fill="#44ee22"/>
<polygon points="175.61,371.15 177.86,373.40 175.61,375.65 173.36,373.40" fill="#44ee22"/>
<polygon points="184.52,366.35 186.77,368.60 184.52,370.85 182.27,368.60" fill="#44ee22"/>
<polygon points="193.43,359.35 195.68,361.60 193.43,363.85 191.18,361.60" fill="#44ee22"/>
<polygon points="202.34,351.85 204.59,354.10 202.34,356.35 200.09,354.10" fill="#44ee22"/>
<polygon points="211.24,345.15 213.49,347.40 211.24,349.65 208.99,347.40" fill="#44ee22"/>
<polygon points="220.15,339.95 222.40,342.20 220.15,344.45 217.90,342.20" fill="#44ee22"/>
<polygon points="229.06,336.25 231.31,338.50 229.06,340.75 226.81,338.50" fill="#44ee22"/>
<polygon points="237.97,329.75 240.22,332.00 237.97,334.25 235.72,332.00" fill="#44ee22"/>
<polygon points="246.88,323.75 249.13,326.00 246.88,328.25 244.63,326.00" fill="#44ee22"/>
<polygon points="255.78,319.45 258.03,321.70 255.78,323.95 253.53,321.70" fill="#44ee22"/>
<polygon points="264.69,318.35 266.94,320.60 264.69,322.85 262.44,320.60" fill="#44ee22"/>
<polygon points="273.60,317.25 275.85,319.50 273.60,321.75 271.35,319.50" fill="#44ee22"/>
<polyline points="46.20,411.00 50.90,421.00 59.81,445.50 68.72,430.50 77.62,423.00 86.53,415.60 95.44,412.80 104.35,426.00 113.26,438.50 122.16,433.30 131.07,427.00 139.98,423.00 148.89,418.50 157.80,411.00 166.70,408.50 175.61,400.00 184.52,390.50 193.43,381.00 202.34,371.50 211.24,360.50 220.15,349.00 229.06,342.00 237.97,336.00 246.88,331.70 255.78,328.30 264.69,328.90 273.60,331.10" fill="none" stroke="#66eedd" stroke-width="1.3" stroke-linejoin="round"/>
<polygon points="50.90,423.68 48.20,419.36 53.60,419.36" fill="#66eedd"/>
<polygon points="59.81,448.18 57.11,443.86 62.51,443.86" fill="#66eedd"/>
<polygon points="68.72,433.18 66.02,428.86 71.42,428.86" fill="#66eedd"/>
<polygon points="77.62,425.68 74.92,421.36 80.32,421.36" fill="#66eedd"/>
<polygon points="86.53,418.28 83.83,413.96 89.23,413.96" fill="#66eedd"/>
<polygon points="95.44,415.48 92.74,411.16 98.14,411.16" fill="#66eedd"/>
<polygon points="104.35,428.68 101.65,424.36 107.05,424.36" fill="#66eedd"/>
<polygon points="113.26,441.18 110.56,436.86 115.96,436.86" fill="#66eedd"/>
<polygon points="122.16,435.98 119.46,431.66 124.86,431.66" fill="#66eedd"/>
<polygon points="131.07,429.68 128.37,425.36 133.77,425.36" fill="#66eedd"/>
<polygon points="139.98,425.68 137.28,421.36 142.68,421.36" fill="#66eedd"/>
<polygon points="148.89,421.18 146.19,416.86 151.59,416.86" fill="#66eedd"/>
<polygon points="157.80,413.68 155.10,409.36 160.50,409.36" fill="#66eedd"/>
<polygon points="166.70,411.18 164.00,406.86 169.40,406.86" fill="#66eedd"/>
<polygon points="175.61,402.68 172.91,398.36 178.31,398.36" fill="#66eedd"/>
<polygon points="184.52,393.18 181.82,388.86 187.22,388.86" fill="#66eedd"/>
<polygon points="193.43,383.68 190.73,379.36 196.13,379.36" fill="#66eedd"/>
<polygon points="202.34,374.18 199.64,369.86 205.04,369.86" fill="#66eedd"/>
<polygon points="211.24,363.18 208.54,358.86 213.94,358.86" fill="#66eedd"/>
<polygon points="220.15,351.68 217.45,347.36 222.85,347.36" fill="#66eedd"/>
<polygon points="229.06,344.68 226.36,340.36 231.76,340.36" fill="#66eedd"/>
<polygon points="237.97,338.68 235.27,334.36 240.67,334.36" fill="#66eedd"/>
<polygon points="246.88,334.38 244.18,330.06 249.58,330.06" fill="#66eedd"/>
<polygon points="255.78,330.98 253.08,326.66 258.48,326.66" fill="#66eedd"/>
<polygon points="264.69,331.58 261.99,327.26 267.39,327.26" fill="#66eedd"/>
<polygon points="273.60,333.78 270.90,329.46 276.30,329.46" fill="#66eedd"/>
<polyline points="46.20,408.30 50.90,422.20 59.81,407.50 68.72,405.00 77.62,400.50 86.53,398.50 95.44,399.00 104.35,402.50 113.26,411.70 122.16,408.00 131.07,402.00 139.98,397.50 148.89,394.70 157.80,389.60 166.70,381.80 175.61,374.30 184.52,369.50 193.43,362.50 202.34,355.00 211.24,348.30 220.15,343.10 229.06,345.70 237.97,331.00 246.88,324.00 255.78,319.00 264.69,317.20 273.60,317.80" fill="none" stroke="#2244ee" stroke-width="1.3" stroke-linejoin="round"/>
<polygon points="50.90,419.52 48.20,423.84 53.60,423.84" fill="#2244ee"/>
<polygon points="59.81,404.82 57.11,409.14 62.51,409.14" fill="#2244ee"/>
<polygon points="68.72,402.32 66.02,406.64 71.42,406.64" fill="#2244ee"/>
<polygon points="77.62,397.82 74.92,402.14 80.32,402.14" fill="#2244ee"/>
<polygon points="86.53,395.82 83.83,400.14 89.23,400.14" fill="#2244ee"/>
<polygon points="95.44,396.32 92.74,400.64 98.14,400.64" fill="#2244ee"/>
<polygon points="104.35,399.82 101.65,404.14 107.05,404.14" fill="#2244ee"/>
<polygon points="113.26,409.02 110.56,413.34 115.96,413.34" fill="#2244ee"/>
<polygon points="122.16,405.32 119.46,409.64 124.86,409.64" fill="#2244ee"/>
<polygon points="131.07,399.32 128.37,403.64 133.77,403.64" fill="#2244ee"/>
<polygon points="139.98,394.82 137.28,399.14 142.68,399.14" fill="#2244ee"/>
<polygon points="148.89,392.02 146.19,396.34 151.59,396.34" fill="#2244ee"/>
<polygon points="157.80,386.92 155.10,391.24 160.50,391.24" fill="#2244ee"/>
<polygon points="166.70,379.12 164.00,383.44 169.40,383.44" fill="#2244ee"/>
<polygon points="175.61,371.62 172.91,375.94 178.31,375.94" fill="#2244ee"/>
<polygon points="184.52,366.82 181.82,371.14 187.22,371.14" fill="#2244ee"/>
<polygon points="193.43,359.82 190.73,364.14 196.13,364.14" fill="#2244ee"/>
<polygon points="202.34,352.32 199.64,356.64 205.04,356.64" fill="#2244ee"/>
<polygon points="211.24,345.62 208.54,349.94 213.94,349.94" fill="#2244ee"/>
<polygon points="220.15,340.42 217.45,344.74 222.85,344.74" fill="#2244ee"/>
<polygon points="229.06,343.02 226.36,347.34 231.76,347.34" fill="#2244ee"/>
<polygon points="237.97,328.32 235.27,332.64 240.67,332.64" fill="#2244ee"/>
<polygon points="246.88,321.32 244.18,325.64 249.58,325.64" fill="#2244ee"/>
<polygon points="255.78,316.32 253.08,320.64 258.48,320.64" fill="#2244ee"/>
<polygon points="264.69,314.52 261.99,318.84 267.39,318.84" fill="#2244ee"/>
<polygon points="273.60,315.12 270.90,319.44 276.30,319.44" fill="#2244ee"/>
<polyline points="46.20,418.60 50.90,432.80 59.81,429.80 68.72,428.90 77.62,424.70 86.53,429.10 95.44,421.70 104.35,415.60 113.26,430.30 122.16,430.30 131.07,424.40 139.98,421.10 148.89,416.70 157.80,409.30 166.70,406.70 175.61,398.20 184.52,388.60 193.43,379.20 202.34,369.50 211.24,358.30 220.15,347.00 229.06,335.50 237.97,333.70 246.88,327.90 255.78,323.60 264.69,323.30 273.60,323.10" fill="none" stroke="#ff0000" stroke-width="1.3" stroke-linejoin="round"/>
<rect x="48.25" y="430.15" width="5.3" height="5.3" fill="#ff0000"/>
<rect x="57.16" y="427.15" width="5.3" height="5.3" fill="#ff0000"/>
<rect x="66.07" y="426.25" width="5.3" height="5.3" fill="#ff0000"/>
<rect x="74.97" y="422.05" width="5.3" height="5.3" fill="#ff0000"/>
<rect x="83.88" y="426.45" width="5.3" height="5.3" fill="#ff0000"/>
<rect x="92.79" y="419.05" width="5.3" height="5.3" fill="#ff0000"/>
<rect x="101.70" y="412.95" width="5.3" height="5.3" fill="#ff0000"/>
<rect x="110.61" y="427.65" width="5.3" height="5.3" fill="#ff0000"/>
<rect x="119.51" y="427.65" width="5.3" height="5.3" fill="#ff0000"/>
<rect x="128.42" y="421.75" width="5.3" height="5.3" fill="#ff0000"/>
<rect x="137.33" y="418.45" width="5.3" height="5.3" fill="#ff0000"/>
<rect x="146.24" y="414.05" width="5.3" height="5.3" fill="#ff0000"/>
<rect x="155.15" y="406.65" width="5.3" height="5.3" fill="#ff0000"/>
<rect x="164.05" y="404.05" width="5.3" height="5.3" fill="#ff0000"/>
<rect x="172.96" y="395.55" width="5.3" height="5.3" fill="#ff0000"/>
<rect x="181.87" y="385.95" width="5.3" height="5.3" fill="#ff0000"/>
<rect x="190.78" y="376.55" width="5.3" height="5.3" fill="#ff0000"/>
<rect x="199.69" y="366.85" width="5.3" height="5.3" fill="#ff0000"/>
<rect x="208.59" y="355.65" width="5.3" height="5.3" fill="#ff0000"/>
<rect x="217.50" y="344.35" width="5.3" height="5.3" fill="#ff0000"/>
<rect x="226.41" y="332.85" width="5.3" height="5.3" fill="#ff0000"/>
<rect x="235.32" y="331.05" width="5.3" height="5.3" fill="#ff0000"/>
<rect x="244.23" y="325.25" width="5.3" height="5.3" fill="#ff0000"/>
<rect x="253.13" y="320.95" width="5.3" height="5.3" fill="#ff0000"/>
<rect x="262.04" y="320.65" width="5.3" height="5.3" fill="#ff0000"/>
<rect x="270.95" y="320.45" width="5.3" height="5.3" fill="#ff0000"/>
<polyline points="46.20,409.50 50.90,409.40 59.81,409.40 68.72,404.70 77.62,402.00 86.53,398.30 95.44,398.70 104.35,401.70 113.26,409.20 122.16,407.00 131.07,401.10 139.98,396.70 148.89,392.90 157.80,387.80 166.70,380.00 175.61,372.50 184.52,367.70 193.43,360.70 202.34,353.20 211.24,346.50 220.15,341.30 229.06,337.60 237.97,329.60 246.88,322.80 255.78,317.60 264.69,312.80 273.60,308.70" fill="none" stroke="#000" stroke-width="1.3" stroke-linejoin="round"/>
<circle cx="50.90" cy="409.40" r="2.6" fill="#000"/>
<circle cx="59.81" cy="409.40" r="2.6" fill="#000"/>
<circle cx="68.72" cy="404.70" r="2.6" fill="#000"/>
<circle cx="77.62" cy="402.00" r="2.6" fill="#000"/>
<circle cx="86.53" cy="398.30" r="2.6" fill="#000"/>
<circle cx="95.44" cy="398.70" r="2.6" fill="#000"/>
<circle cx="104.35" cy="401.70" r="2.6" fill="#000"/>
<circle cx="113.26" cy="409.20" r="2.6" fill="#000"/>
<circle cx="122.16" cy="407.00" r="2.6" fill="#000"/>
<circle cx="131.07" cy="401.10" r="2.6" fill="#000"/>
<circle cx="139.98" cy="396.70" r="2.6" fill="#000"/>
<circle cx="148.89" cy="392.90" r="2.6" fill="#000"/>
<circle cx="157.80" cy="387.80" r="2.6" fill="#000"/>
<circle cx="166.70" cy="380.00" r="2.6" fill="#000"/>
<circle cx="175.61" cy="372.50" r="2.6" fill="#000"/>
<circle cx="184.52" cy="367.70" r="2.6" fill="#000"/>
<circle cx="193.43" cy="360.70" r="2.6" fill="#000"/>
<circle cx="202.34" cy="353.20" r="2.6" fill="#000"/>
<circle cx="211.24" cy="346.50" r="2.6" fill="#000"/>
<circle cx="220.15" cy="341.30" r="2.6" fill="#000"/>
<circle cx="229.06" cy="337.60" r="2.6" fill="#000"/>
<circle cx="237.97" cy="329.60" r="2.6" fill="#000"/>
<circle cx="246.88" cy="322.80" r="2.6" fill="#000"/>
<circle cx="255.78" cy="317.60" r="2.6" fill="#000"/>
<circle cx="264.69" cy="312.80" r="2.6" fill="#000"/>
<circle cx="273.60" cy="308.70" r="2.6" fill="#000"/>
</g>
<line x1="308" y1="303.50" x2="324.7" y2="303.50" stroke="#000" stroke-width="1.5"/>
<circle cx="316.40" cy="303.50" r="2.5" fill="#000"/>
<text x="333.5" y="307.50" font-size="12.5" stroke="#000" stroke-width="0.4" font-family="Liberation Sans, sans-serif">PCP (G<tspan font-style="italic" font-weight="bold" dx="0.3">′</tspan>)</text>
<line x1="308" y1="323.95" x2="324.7" y2="323.95" stroke="#ff0000" stroke-width="1.5"/>
<rect x="313.80" y="321.35" width="5.2" height="5.2" fill="#ff0000"/>
<text x="333.5" y="327.95" font-size="12.5" stroke="#000" stroke-width="0.4" font-family="Liberation Sans, sans-serif">PCP (G<tspan font-style="italic" font-weight="bold" dx="0">″</tspan>)</text>
<line x1="308" y1="344.40" x2="324.7" y2="344.40" stroke="#2244ee" stroke-width="1.5"/>
<polygon points="316.40,341.42 313.40,346.22 319.40,346.22" fill="#2244ee"/>
<text x="333.5" y="348.40" font-size="12.5" stroke="#000" stroke-width="0.4" font-family="Liberation Sans, sans-serif">PSP (G<tspan font-style="italic" font-weight="bold" dx="0.3">′</tspan>)</text>
<line x1="308" y1="364.85" x2="324.7" y2="364.85" stroke="#66eedd" stroke-width="1.5"/>
<polygon points="316.40,367.83 313.40,363.03 319.40,363.03" fill="#66eedd"/>
<text x="333.5" y="368.85" font-size="12.5" stroke="#000" stroke-width="0.4" font-family="Liberation Sans, sans-serif">PSP (G<tspan font-style="italic" font-weight="bold" dx="0">″</tspan>)</text>
<line x1="308" y1="385.30" x2="324.7" y2="385.30" stroke="#44ee22" stroke-width="1.5"/>
<polygon points="316.40,382.80 318.90,385.30 316.40,387.80 313.90,385.30" fill="#44ee22"/>
<text x="333.5" y="389.30" font-size="12.5" stroke="#000" stroke-width="0.4" font-family="Liberation Sans, sans-serif">PKP (G<tspan font-style="italic" font-weight="bold" dx="0.3">′</tspan>)</text>
<line x1="308" y1="405.75" x2="324.7" y2="405.75" stroke="#000" stroke-width="1.5"/>
<circle cx="316.40" cy="405.75" r="2.3" fill="#eeee33" stroke="#000" stroke-width="1.2"/>
<text x="333.5" y="409.75" font-size="12.5" stroke="#000" stroke-width="0.4" font-family="Liberation Sans, sans-serif">PKP (G<tspan font-style="italic" font-weight="bold" dx="0">″</tspan>)</text>
</svg></body></html>
